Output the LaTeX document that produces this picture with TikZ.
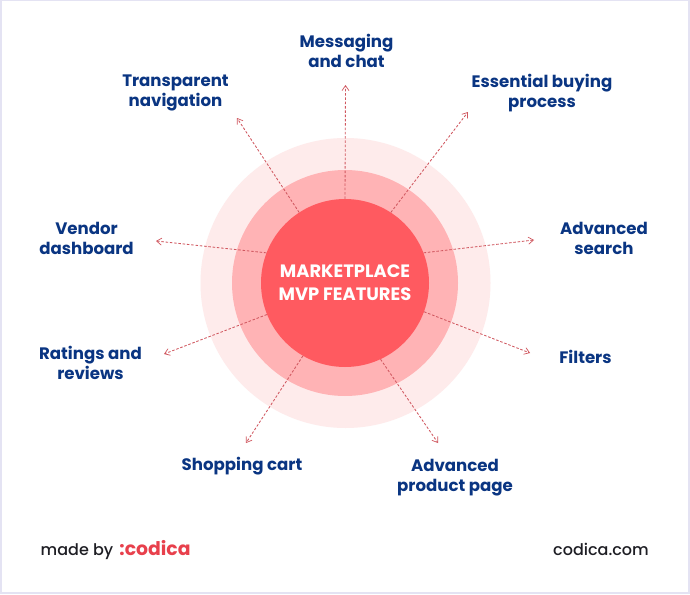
\documentclass[tikz,border=0pt]{standalone}
\usepackage{fontspec}
\setmainfont{Poppins}
\newfontfamily\medfont{Poppins Medium}
\usetikzlibrary{arrows.meta,calc}
\definecolor{navy}{HTML}{0A3582}
\definecolor{ringa}{HTML}{FEEBEB}
\definecolor{ringb}{HTML}{FFB3B5}
\definecolor{core}{HTML}{FF5A60}
\definecolor{dash}{HTML}{D0575F}
\definecolor{frame}{HTML}{E4E3F3}
\definecolor{logo}{HTML}{E8404C}
\definecolor{ink}{HTML}{1E1E24}
\tikzset{
  feat/.style={font=\fontsize{16.6}{20}\selectfont\bfseries,text=navy,align=center,inner sep=0pt},
  foot/.style={font=\fontsize{16}{19}\selectfont\medfont,text=ink,inner sep=0pt,anchor=base},
  spoke/.style={draw=dash,line width=0.85pt,dash pattern=on 2.5pt off 1.8pt,-{Straight Barb[length=5pt,width=7pt,line width=0.7pt]}},
  disc/.style={circle,draw=none,inner sep=0pt,minimum size=#1}
}
\begin{document}
\begin{tikzpicture}[x=1pt,y=-1pt]
\useasboundingbox (0,0) rectangle (690,594);
\fill[frame] (0,0) rectangle (690,594);
\fill[white] (2,1) rectangle (688,592);
\node[disc=290pt,fill=ringa] (outer) at (345.5,283) {};
\node[disc=226pt,fill=ringb] (middle) at (345,283) {};
\node[disc=168pt,fill=core,font=\fontsize{17.9}{23}\selectfont\bfseries,text=white,align=center] (inner) at (345,283) {MARKETPLACE\\MVP FEATURES};
\coordinate (e1) at (345.5,85);
\coordinate (e2) at (468,112);
\coordinate (e3) at (534,240);
\coordinate (e4) at (530,353);
\coordinate (e5) at (438,443);
\coordinate (e6) at (246,443);
\coordinate (e7) at (164,354);
\coordinate (e8) at (156,241);
\coordinate (e9) at (237,118);
\draw[spoke] (inner.north) -- (e1);
\draw[spoke] (inner.57) -- (e2);
\draw[spoke] (inner.21) -- (e3);
\draw[spoke] (inner.-20) -- (e4);
\draw[spoke] (inner.-65) -- (e5);
\draw[spoke] (inner.-120) -- (e6);
\draw[spoke] (inner.-158) -- (e7);
\draw[spoke] (inner.159) -- (e8);
\draw[spoke] (inner.123) -- (e9);
\node[feat] (n1) at (346.5,51) {Messaging\\and chat};
\node[feat] (n2) at (542,93) {Essential buying\\process};
\node[feat] (n3) at (604,238) {Advanced\\search};
\node[feat] (n4) at (585.5,357) {Filters};
\node[feat] (n5) at (455,478) {Advanced\\product page};
\node[feat] (n6) at (242,466) {Shopping cart};
\node[feat] (n7) at (90.5,363) {Ratings and\\reviews};
\node[feat] (n8) at (86.5,238) {Vendor\\dashboard};
\node[feat] (n9) at (175.5,93) {Transparent\\navigation};
\node[foot] (by) at (77,555) {made by};
\node[foot,font=\fontsize{18.8}{20}\selectfont\bfseries,text=logo] (brand) at (155,555) {:codica};
\node[foot] (site) at (601,555) {codica.com};
\end{tikzpicture}
\end{document}
